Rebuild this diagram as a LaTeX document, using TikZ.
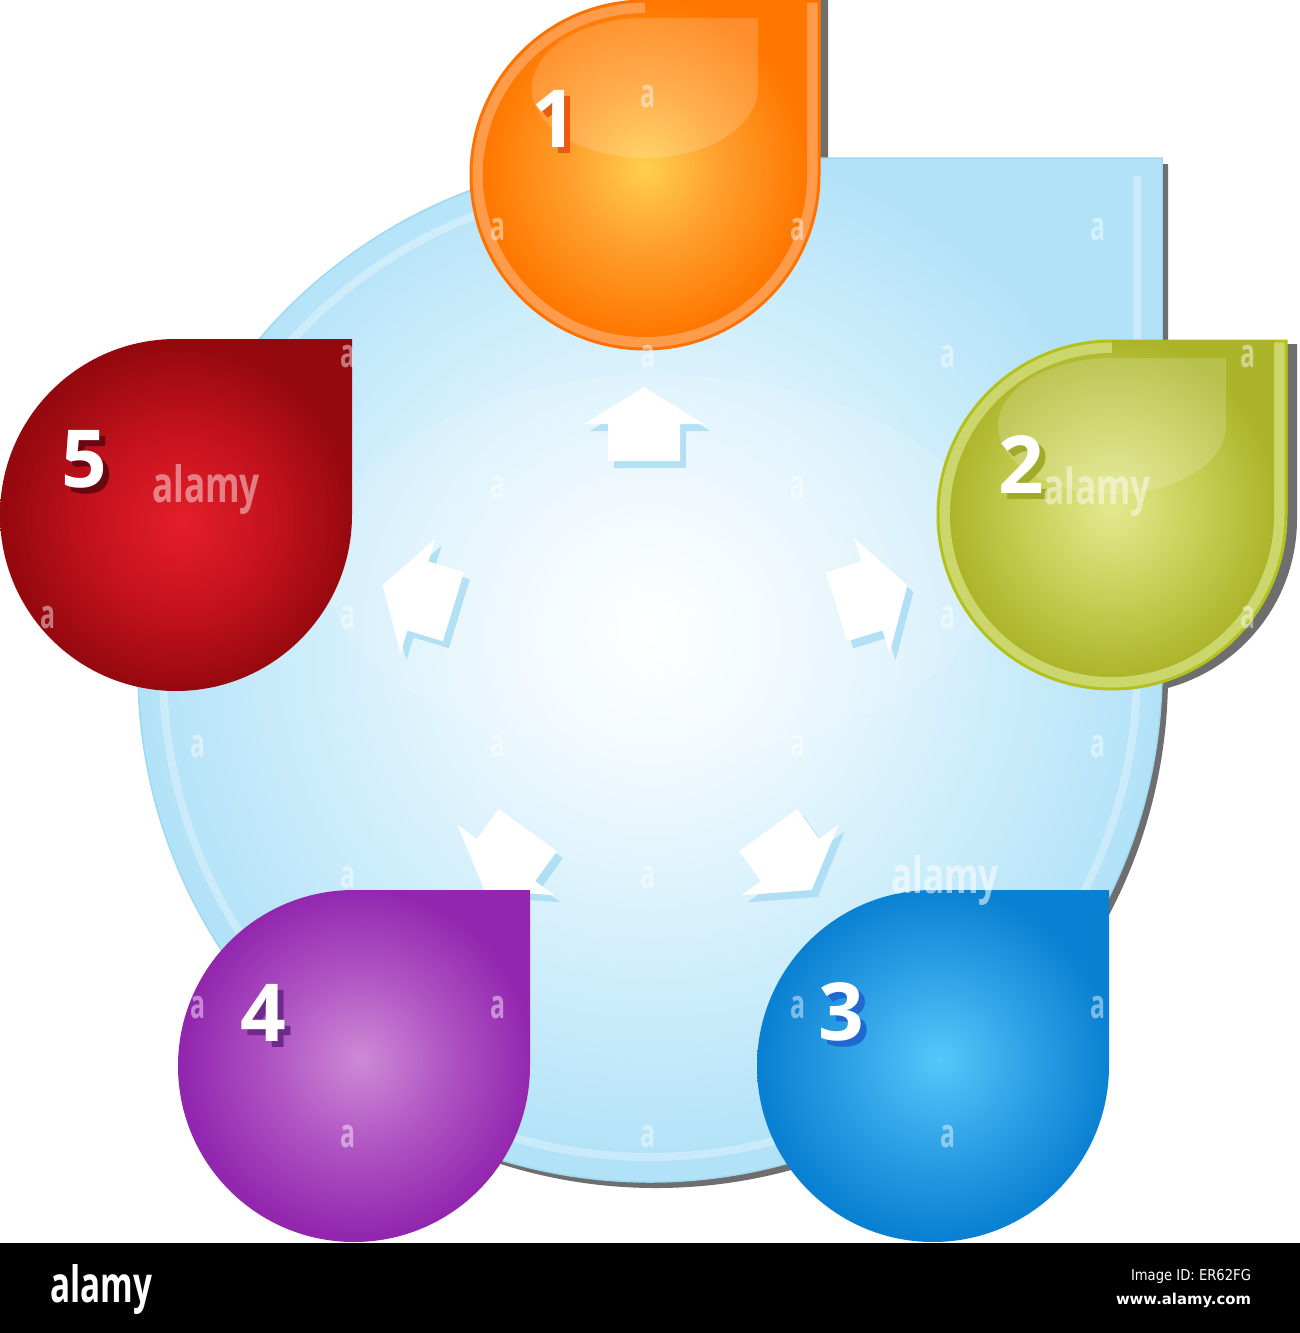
\documentclass[tikz,border=0pt]{standalone}
\usepackage{fontspec}
\setmainfont{Open Sans}
\newfontfamily\barfont{DejaVu Sans}

\definecolor{shadowgray}{HTML}{6E6E6E}
\definecolor{bg1}{HTML}{F2FAFE}
\definecolor{bg2}{HTML}{CDEDFB}
\definecolor{bg3}{HTML}{B2E2F8}
\definecolor{bgedge}{HTML}{9FD8F2}
\definecolor{arrsh}{HTML}{A6DBF4}
% orange
\definecolor{oC}{HTML}{FFCF4E}
\definecolor{oM}{HTML}{FF9E2C}
\definecolor{oE}{HTML}{FF7700}
\definecolor{oRim}{HTML}{FF9C4C}
\definecolor{oBrd}{HTML}{FF7200}
\definecolor{oSh}{HTML}{EC5A10}
% green
\definecolor{gC}{HTML}{E3E98F}
\definecolor{gM}{HTML}{C8D058}
\definecolor{gE}{HTML}{ACB52A}
\definecolor{gRim}{HTML}{CBD76C}
\definecolor{gBrd}{HTML}{B4C11C}
\definecolor{gSh}{HTML}{A2AA2A}
% blue
\definecolor{bC}{HTML}{55C8FA}
\definecolor{bM}{HTML}{2EA0E6}
\definecolor{bE}{HTML}{0A80D2}
\definecolor{bSh}{HTML}{1E68D0}
% purple
\definecolor{pC}{HTML}{CE8AD6}
\definecolor{pM}{HTML}{AE52C2}
\definecolor{pE}{HTML}{9226AE}
\definecolor{pSh}{HTML}{6E2A8A}
% red
\definecolor{rC}{HTML}{E41E2A}
\definecolor{rM}{HTML}{C4121C}
\definecolor{rE}{HTML}{94080E}
\definecolor{rSh}{HTML}{6A0610}

\pgfdeclareradialshading{bigS}{\pgfpoint{0bp}{2bp}}{color(0bp)=(white); color(6bp)=(bg1); color(17bp)=(bg2); color(25bp)=(bg3); color(50bp)=(bg3)}
\pgfdeclareradialshading{oS}{\pgfpoint{0bp}{0bp}}{color(0bp)=(oC); color(12bp)=(oM); color(25bp)=(oE); color(50bp)=(oE)}
\pgfdeclareradialshading{gS}{\pgfpoint{0bp}{0bp}}{color(0bp)=(gC); color(13bp)=(gM); color(25bp)=(gE); color(50bp)=(gE)}
\pgfdeclareradialshading{bS}{\pgfpoint{1bp}{1bp}}{color(0bp)=(bC); color(13bp)=(bM); color(25bp)=(bE); color(50bp)=(bE)}
\pgfdeclareradialshading{pS}{\pgfpoint{1bp}{1bp}}{color(0bp)=(pC); color(13bp)=(pM); color(25bp)=(pE); color(50bp)=(pE)}
\pgfdeclareradialshading{rS}{\pgfpoint{1bp}{-1bp}}{color(0bp)=(rC); color(13bp)=(rM); color(25bp)=(rE); color(50bp)=(rE)}

% teardrop: circle (cx,cy,R) with a square top-right corner (y axis points down)
\newcommand\dropP[3]{(#1,#2-#3) -- (#1+#3,#2-#3) -- (#1+#3,#2) arc[start angle=0,end angle=270,radius=#3] -- cycle}
% inner teardrop, inset #4 on right and round side
\newcommand\dropI[4]{(#1,#2-#3) -- (#1+#3-#4,#2-#3) -- (#1+#3-#4,#2) arc[start angle=0,end angle=270,radius=#3-#4] -- cycle}
% arrow pointing up, centred at origin
\newcommand\arrP{(0,-37) -- (60,0) -- (36,0) -- (36,37) -- (-36,37) -- (-36,0) -- (-60,0) -- cycle}
% digit with its offset coloured shadow
\newcommand\shnum[2]{\rlap{\kern6pt\raisebox{-6pt}{\textcolor{#1}{#2}}}#2}

\tikzset{
  every node/.style={inner sep=0pt, outer sep=0pt},
  numtxt/.style={font=\fontsize{80}{80}\selectfont\bfseries, text=white},
  wmword/.style={font=\fontsize{50}{50}\selectfont\bfseries, text=white, text opacity=0.45},
  wmletter/.style={font=\fontsize{40}{40}\selectfont\bfseries, text=white, text opacity=0.45},
  gloss/.style={fill=white, fill opacity=0.17},
}

\begin{document}
\begin{tikzpicture}[x=1pt,y=-1pt]
\useasboundingbox (0,0) rectangle (1300,1333);
\fill[white] (0,0) rectangle (1300,1333);

% shadows behind everything
\fill[shadowgray] \dropP{653}{175}{175};
\fill[shadowgray] \dropP{1122}{519}{175};
\fill[shadowgray] \dropP{656}{676}{512};

% big background shape
\shade[shading=bigS] \dropP{650}{670}{512};
\draw[bgedge, line width=1.5] \dropP{650}{670}{512};
\fill[white, opacity=0.12] (660,565) ellipse[x radius=335, y radius=190];
\draw[white, opacity=0.3, line width=8] (1137,176) -- (1137,670) arc[start angle=0,end angle=250,radius=487];

% arrows
\foreach \ax/\ay/\ar [count=\i] in {644/424/0, 872/596/-73, 790/860/-144, 506/860/144, 418/596/73} {
  \fill[arrsh, opacity=0.8, shift={(\ax+6,\ay+7)}, rotate=\ar] \arrP;
  \fill[white, shift={(\ax,\ay)}, rotate=\ar] \arrP;
}

% drop 1 (orange)
\fill[oRim] \dropP{645}{175}{175};
\draw[oBrd, line width=3] \dropP{645}{175}{174};
\shade[shading=oS] \dropI{645}{175}{175}{13};
\fill[gloss] (645,18) -- (758,18) -- (758,88) arc[start angle=0,end angle=270,x radius=113,y radius=70] -- cycle;

% drop 2 (green)
\fill[gRim] \dropP{1112}{515}{175};
\draw[gBrd, line width=3] \dropP{1112}{515}{174};
\shade[shading=gS] \dropI{1112}{515}{175}{13};
\fill[gloss] (1112,358) -- (1226,358) -- (1226,426) arc[start angle=0,end angle=270,x radius=114,y radius=68] -- cycle;

% drop 3 (blue)
\shade[shading=bS] \dropP{933}{1066}{176};
% drop 4 (purple)
\shade[shading=pS] \dropP{354}{1066}{176};
% drop 5 (red)
\shade[shading=rS] \dropP{176}{515}{176};

% numbers with their shadows
\node[numtxt] (n1) at (554,122) {\shnum{oSh}{1}};
\node[numtxt] (n2) at (1021,468) {\shnum{gSh}{2}};
\node[numtxt] (n3) at (841,1015) {\shnum{bSh}{3}};
\node[numtxt] (n4) at (263,1016) {\shnum{pSh}{4}};
\node[numtxt] (n5) at (84,462) {\shnum{rSh}{5}};

% watermark words
\node[wmword] (w1) at (206,490) {\resizebox{108pt}{\height}{alamy}};
\node[wmword] (w2) at (1097,492) {\resizebox{108pt}{\height}{alamy}};
\node[wmword, text opacity=0.15] (w3) at (650,618) {\resizebox{108pt}{\height}{alamy}};
\node[wmword, text opacity=0.55] (w4) at (945,880) {\resizebox{108pt}{\height}{alamy}};

% watermark letters
\foreach \wx/\wy in {648/97, 498/230, 798/230, 1098/230, 348/357, 648/357, 948/357, 1248/357,
  498/488, 798/488, 48/618, 348/618, 948/618, 1248/618, 198/747, 498/747, 798/747, 1098/747,
  348/878, 648/878, 198/1008, 498/1008, 798/1008, 1098/1008, 348/1137, 648/1137, 948/1137} {
  \node[wmletter] at (\wx,\wy) {\resizebox{15pt}{\height}{a}};
}

% bottom bar
\fill[black] (0,1243) rectangle (1300,1333);
\node[anchor=base west, text=white, font=\fontsize{50}{50}\selectfont\bfseries] (logo) at (50,1302) {\resizebox{102pt}{\height}{alamy}};
\node[anchor=base east, text=white, font=\barfont\fontsize{15}{15}\selectfont] (imgid) at (1251,1280) {\resizebox{120pt}{\height}{Image ID: ER62FG}};
\node[anchor=base east, text=white, font=\barfont\fontsize{15}{15}\selectfont\bfseries] (url) at (1251,1304) {\resizebox{135pt}{\height}{www.alamy.com}};
\end{tikzpicture}
\end{document}
